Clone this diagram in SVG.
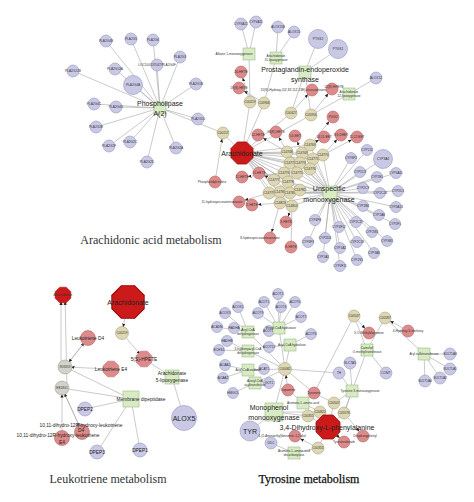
<svg xmlns="http://www.w3.org/2000/svg" xmlns:xlink="http://www.w3.org/1999/xlink" width="474" height="502" viewBox="0 0 474 502">
<style>
.lv{fill:#c9c9e6;stroke:#9696bf;stroke-width:0.6}
.rd{fill:#dc8a8a;stroke:#b56565;stroke-width:0.6}
.tn{fill:#ded7b3;stroke:#a9a27e;stroke-width:0.6}
.gy{fill:#d3d3cc;stroke:#9c9c94;stroke-width:0.6}
.gr{fill:#d8ebc2;stroke:#9cb98a;stroke-width:0.6}
.oc{fill:#cc1a1a;stroke:#9a0c0c;stroke-width:0.6}
.ro{fill:#dc8a8a;stroke:#b56565;stroke-width:0.6}
text{font-family:"Liberation Sans",Arial,sans-serif;text-anchor:middle;dominant-baseline:central;fill:#333}
.t{font-size:3.2px}
.s{font-size:4.8px;fill:#222}
.m{font-size:7px;fill:#222}
.ttl{font-family:"Liberation Serif","Times New Roman",serif;font-size:12px;fill:#333;dominant-baseline:alphabetic}
#edges line{stroke:#a6a6a6;stroke-width:0.6}
#edges .a{marker-end:url(#am)}
#edges .b{marker-end:url(#ab)}
</style>
<defs>
<marker id="am" viewBox="0 0 10 10" markerWidth="10" markerHeight="10" refX="9.5" refY="5" orient="auto" markerUnits="userSpaceOnUse"><path d="M0,3.4 L3.6,5 L0,6.6 z" fill="#222"/></marker>
<marker id="ab" viewBox="0 0 10 10" markerWidth="10" markerHeight="10" refX="9.9" refY="5" orient="auto" markerUnits="userSpaceOnUse"><path d="M0,3.4 L3.6,5 L0,6.6 z" fill="#222"/></marker>
<polygon id="oct" points="3.83,-9.24 9.24,-3.83 9.24,3.83 3.83,9.24 -3.83,9.24 -9.24,3.83 -9.24,-3.83 -3.83,-9.24"/>
</defs>
<rect width="474" height="502" fill="#fff"/>

<g id="edges">
<!-- Arachidonic: phospholipase -->
<line x1="160" y1="108" x2="106" y2="41"/><line x1="160" y1="108" x2="131" y2="39"/><line x1="160" y1="108" x2="153" y2="40"/><line x1="160" y1="108" x2="180" y2="57"/><line x1="160" y1="108" x2="157" y2="65"/><line x1="160" y1="108" x2="115" y2="69"/><line x1="160" y1="108" x2="73" y2="71"/><line x1="160" y1="108" x2="133" y2="85"/><line x1="160" y1="108" x2="196" y2="84"/><line x1="160" y1="108" x2="94" y2="104"/><line x1="160" y1="108" x2="116" y2="107"/><line x1="160" y1="108" x2="198" y2="119"/><line x1="160" y1="108" x2="96" y2="127"/><line x1="160" y1="108" x2="130" y2="142"/><line x1="160" y1="108" x2="109" y2="146"/><line x1="160" y1="108" x2="176" y2="148"/><line x1="160" y1="108" x2="147" y2="162"/><line x1="160" y1="108" x2="223" y2="133"/>
<line class="a" x1="223" y1="133" x2="242" y2="153" style="marker-end:url(#ab)"/>
<line class="a" x1="215" y1="182" x2="223" y2="133"/>
<!-- upper enzymes -->
<line x1="249" y1="54" x2="241" y2="24"/><line x1="249" y1="54" x2="256" y2="22"/><line x1="249" y1="54" x2="250" y2="102"/>
<line x1="276" y1="58" x2="278" y2="27"/><line x1="276" y1="58" x2="294" y2="32"/><line x1="276" y1="58" x2="264" y2="103"/>
<line x1="305" y1="72" x2="318" y2="39"/><line x1="305" y1="72" x2="338" y2="49"/><line x1="305" y1="72" x2="291" y2="113"/><line x1="305" y1="72" x2="311" y2="115"/>
<line x1="349" y1="94" x2="376" y2="78"/><line x1="349" y1="94" x2="311" y2="115"/>
<line class="a" x1="250" y1="102" x2="241" y2="72"/><line class="a" x1="264" y1="103" x2="239" y2="88"/>
<line class="a" x1="291" y1="113" x2="312" y2="90"/><line class="a" x1="311" y1="115" x2="332" y2="89"/>
<line x1="242" y1="153" x2="250" y2="102"/><line x1="242" y1="153" x2="264" y2="103"/><line x1="242" y1="153" x2="291" y2="113"/><line x1="242" y1="153" x2="311" y2="115"/>
<!-- arachidonate to cluster -->
<line x1="242" y1="153" x2="287" y2="152"/><line x1="242" y1="153" x2="302" y2="153"/><line x1="242" y1="153" x2="310" y2="145"/><line x1="242" y1="153" x2="323" y2="155"/><line x1="242" y1="153" x2="313" y2="159"/><line x1="242" y1="153" x2="290" y2="163"/><line x1="242" y1="153" x2="300" y2="163"/><line x1="242" y1="153" x2="284" y2="173"/><line x1="242" y1="153" x2="297" y2="173"/><line x1="242" y1="153" x2="310" y2="169"/><line x1="242" y1="153" x2="274" y2="180"/><line x1="242" y1="153" x2="288" y2="182"/><line x1="242" y1="153" x2="269" y2="193"/><line x1="242" y1="153" x2="280" y2="192"/><line x1="242" y1="153" x2="290" y2="193"/><line x1="242" y1="153" x2="300" y2="190"/><line x1="242" y1="153" x2="280" y2="203"/><line x1="242" y1="153" x2="292" y2="206"/>
<!-- cluster to products -->
<line class="a" x1="287" y1="152" x2="258" y2="135"/><line class="a" x1="287" y1="152" x2="276" y2="132"/><line class="a" x1="302" y1="153" x2="295" y2="136"/><line class="a" x1="310" y1="145" x2="324" y2="137"/><line class="a" x1="323" y1="155" x2="341" y2="135"/><line class="a" x1="323" y1="155" x2="357" y2="137"/><line class="a" x1="310" y1="145" x2="333" y2="117"/>
<line class="a" x1="274" y1="180" x2="259" y2="173"/><line class="a" x1="284" y1="173" x2="242" y2="177"/><line class="a" x1="269" y1="193" x2="239" y2="202"/><line class="a" x1="280" y1="203" x2="252" y2="205"/><line class="a" x1="292" y1="206" x2="286" y2="222"/><line class="a" x1="280" y1="203" x2="270" y2="238"/><line x1="292" y1="206" x2="291" y2="247"/>
<!-- unspecific monooxygenase to cluster -->
<line x1="330" y1="193" x2="287" y2="152"/><line x1="330" y1="193" x2="302" y2="153"/><line x1="330" y1="193" x2="310" y2="145"/><line x1="330" y1="193" x2="323" y2="155"/><line x1="330" y1="193" x2="313" y2="159"/><line x1="330" y1="193" x2="290" y2="163"/><line x1="330" y1="193" x2="300" y2="163"/><line x1="330" y1="193" x2="284" y2="173"/><line x1="330" y1="193" x2="297" y2="173"/><line x1="330" y1="193" x2="310" y2="169"/><line x1="330" y1="193" x2="274" y2="180"/><line x1="330" y1="193" x2="288" y2="182"/><line x1="330" y1="193" x2="269" y2="193"/><line x1="330" y1="193" x2="280" y2="192"/><line x1="330" y1="193" x2="290" y2="193"/><line x1="330" y1="193" x2="300" y2="190"/><line x1="330" y1="193" x2="280" y2="203"/><line x1="330" y1="193" x2="292" y2="206"/>
<!-- to CYPs -->
<line x1="330" y1="193" x2="351" y2="158"/><line x1="330" y1="193" x2="367" y2="150"/><line x1="330" y1="193" x2="383" y2="159"/><line x1="330" y1="193" x2="360" y2="172"/><line x1="330" y1="193" x2="377" y2="177"/><line x1="330" y1="193" x2="396" y2="173"/><line x1="330" y1="193" x2="363" y2="188"/><line x1="330" y1="193" x2="380" y2="193"/><line x1="330" y1="193" x2="398" y2="191"/><line x1="330" y1="193" x2="363" y2="206"/><line x1="330" y1="193" x2="379" y2="215"/><line x1="330" y1="193" x2="396" y2="207"/><line x1="330" y1="193" x2="395" y2="224"/><line x1="330" y1="193" x2="315" y2="220"/><line x1="330" y1="193" x2="339" y2="227"/><line x1="330" y1="193" x2="356" y2="222"/><line x1="330" y1="193" x2="372" y2="232"/><line x1="330" y1="193" x2="387" y2="241"/><line x1="330" y1="193" x2="325" y2="238"/><line x1="330" y1="193" x2="308" y2="242"/><line x1="330" y1="193" x2="340" y2="248"/><line x1="330" y1="193" x2="357" y2="242"/><line x1="330" y1="193" x2="374" y2="253"/><line x1="330" y1="193" x2="323" y2="257"/><line x1="330" y1="193" x2="357" y2="260"/><line x1="330" y1="193" x2="340" y2="266"/>

<!-- Leukotriene -->
<line class="a" x1="128" y1="302" x2="122" y2="333" style="marker-end:url(#am)"/>
<line class="a" x1="122" y1="333" x2="144" y2="359"/>
<line x1="144" y1="359" x2="172" y2="377"/><line x1="172" y1="377" x2="184" y2="418"/>
<line class="b" x1="61" y1="367" x2="61" y2="295"/><line class="b" x1="67" y1="388" x2="65" y2="295"/>
<line class="a" x1="65" y1="367" x2="88" y2="338"/><line class="a" x1="88" y1="338" x2="65" y2="367"/>
<line class="a" x1="111" y1="369" x2="65" y2="367"/>
<line x1="65" y1="367" x2="131" y2="399"/><line x1="62" y1="388" x2="131" y2="399"/>
<line x1="131" y1="399" x2="85" y2="409"/><line x1="131" y1="399" x2="97" y2="452"/><line x1="131" y1="399" x2="140" y2="450"/>
<line class="a" x1="62" y1="388" x2="82" y2="432"/><line class="a" x1="82" y1="432" x2="62" y2="388"/>
<line class="a" x1="62" y1="438" x2="62" y2="388"/>

<!-- Tyrosine -->
<line x1="279" y1="328" x2="264" y2="302"/><line x1="279" y1="328" x2="278" y2="294"/><line x1="279" y1="328" x2="281" y2="307"/><line x1="279" y1="328" x2="295" y2="302"/><line x1="279" y1="328" x2="258" y2="313"/><line x1="279" y1="328" x2="301" y2="317"/><line x1="279" y1="328" x2="269" y2="331"/><line x1="279" y1="328" x2="285" y2="369"/>
<line x1="290" y1="345" x2="311" y2="334"/><line x1="290" y1="345" x2="269" y2="347"/><line x1="290" y1="345" x2="285" y2="369"/>
<line x1="248" y1="332" x2="238" y2="307"/><line x1="248" y1="332" x2="225" y2="313"/><line x1="248" y1="332" x2="217" y2="327"/><line x1="248" y1="332" x2="234" y2="328"/><line x1="248" y1="332" x2="285" y2="369"/>
<line x1="248" y1="351" x2="227" y2="341"/><line x1="248" y1="351" x2="219" y2="350"/><line x1="248" y1="351" x2="285" y2="369"/>
<line x1="248" y1="370" x2="225" y2="365"/><line x1="248" y1="370" x2="223" y2="378"/><line x1="248" y1="370" x2="264" y2="369"/><line x1="248" y1="370" x2="285" y2="369"/>
<line x1="255" y1="383" x2="233" y2="393"/><line x1="255" y1="383" x2="269" y2="383"/><line x1="255" y1="383" x2="285" y2="369"/>
<line class="a" x1="288" y1="390" x2="285" y2="369"/>
<line x1="274" y1="412" x2="285" y2="369"/><line x1="274" y1="412" x2="250" y2="431"/><line x1="274" y1="412" x2="308" y2="416"/><line x1="274" y1="412" x2="320" y2="412"/>
<line x1="285" y1="369" x2="314" y2="393"/><line x1="285" y1="369" x2="339" y2="373"/><line x1="303" y1="403" x2="288" y2="390"/><line x1="303" y1="403" x2="320" y2="412"/>
<line x1="314" y1="393" x2="354" y2="316"/><line x1="314" y1="393" x2="334" y2="403"/>
<line x1="352" y1="391" x2="339" y2="373"/><line x1="352" y1="391" x2="350" y2="363"/><line x1="352" y1="391" x2="334" y2="403"/><line x1="352" y1="391" x2="344" y2="413"/>
<line class="a" x1="354" y1="316" x2="369" y2="333"/>
<line x1="367" y1="350" x2="354" y2="316"/><line x1="367" y1="350" x2="385" y2="318"/><line x1="367" y1="350" x2="386" y2="373"/><line x1="367" y1="350" x2="344" y2="413"/>
<line class="a" x1="408" y1="331" x2="385" y2="318"/>
<line x1="424" y1="354" x2="385" y2="318"/><line x1="424" y1="354" x2="450" y2="354"/><line x1="424" y1="354" x2="450" y2="369"/><line x1="424" y1="354" x2="440" y2="378"/><line x1="424" y1="354" x2="425" y2="381"/>
<line class="b" x1="308" y1="416" x2="328" y2="427"/><line class="b" x1="320" y1="412" x2="328" y2="427"/><line class="b" x1="334" y1="403" x2="328" y2="427"/><line class="b" x1="344" y1="413" x2="328" y2="427"/>
<line class="a" x1="344" y1="413" x2="363" y2="436"/><line class="a" x1="328" y1="427" x2="344" y2="442" style="marker-end:url(#am)"/>
<line class="a" x1="318" y1="448" x2="295" y2="436"/><line x1="328" y1="427" x2="318" y2="448"/>
<line x1="294" y1="453" x2="318" y2="448"/><line x1="294" y1="453" x2="271" y2="443"/>
</g>

<!-- ===== Arachidonic acid metabolism ===== -->
<g id="pla2g4b"><circle class="lv" cx="106" cy="41" r="6"/><text class="t" x="106" y="41">PLA2G4B</text></g>
<g id="pla2g5"><circle class="lv" cx="131" cy="39" r="6"/><text class="t" x="131" y="39">PLA2G5</text></g>
<g id="pla2g6"><circle class="lv" cx="153" cy="40" r="6"/><text class="t" x="153" y="40">PLA2G6</text></g>
<g id="pla2g3"><circle class="lv" cx="180" cy="57" r="6"/><text class="t" x="180" y="57">PLA2G3</text></g>
<g id="pla2g4f"><circle class="lv" cx="157" cy="65" r="6"/><text class="t" x="157" y="65">LOC100137047/PLA2G4F</text></g>
<g id="pla2g12a"><circle class="lv" cx="115" cy="69" r="6"/><text class="t" x="115" y="69">PLA2G12A</text></g>
<g id="pla2g12b"><circle class="lv" cx="73" cy="71" r="6"/><text class="t" x="73" y="71">PLA2G12B</text></g>
<g id="pla2g4a"><circle class="lv" cx="133" cy="85" r="9.5"/><text class="t" x="133" y="85">PLA2G4A</text></g>
<g id="pla2g1b"><circle class="lv" cx="196" cy="84" r="6"/><text class="t" x="196" y="84">PLA2G1B</text></g>
<g id="pla2g4c"><circle class="lv" cx="94" cy="104" r="6"/><text class="t" x="94" y="104">PLA2G4C</text></g>
<g id="pla2g4d"><circle class="lv" cx="116" cy="107" r="6"/><text class="t" x="116" y="107">PLA2G4D</text></g>
<g id="pla2g10"><circle class="lv" cx="198" cy="119" r="6"/><text class="t" x="198" y="119">PLA2G10</text></g>
<g id="pla2g2e"><circle class="lv" cx="96" cy="127" r="6"/><text class="t" x="96" y="127">PLA2G2E</text></g>
<g id="pla2g2c"><circle class="lv" cx="130" cy="142" r="6"/><text class="t" x="130" y="142">PLA2G2C</text></g>
<g id="pla2g2f"><circle class="lv" cx="109" cy="146" r="6"/><text class="t" x="109" y="146">PLA2G2F</text></g>
<g id="pla2g2a"><circle class="lv" cx="176" cy="148" r="6"/><text class="t" x="176" y="148">PLA2G2A</text></g>
<g id="pla2g2d"><circle class="lv" cx="147" cy="162" r="6"/><text class="t" x="147" y="162">PLA2G2D</text></g>
<g id="phospholipase"><rect class="gr" x="154" y="102" width="12" height="12"/><text class="m" x="160" y="103">Phospholipase</text><text class="m" x="160" y="113">A(2)</text></g>
<g id="aa-c0"><circle class="tn" cx="223" cy="133" r="6"/><text class="t" x="223" y="133">C00157</text></g>
<g id="phosphatidylcholine"><circle class="rd" cx="215" cy="182" r="6"/><text class="t" x="212" y="182">Phosphatidylcholine</text></g>

<g id="cyp4a22"><circle class="lv" cx="241" cy="24" r="6"/><text class="t" x="241" y="24">CYP4A22</text></g>
<g id="cyp4a11"><circle class="lv" cx="256" cy="22" r="6"/><text class="t" x="256" y="22">CYP4A11</text></g>
<g id="alox15b"><circle class="lv" cx="278" cy="27" r="6"/><text class="t" x="278" y="27">ALOX15B</text></g>
<g id="alox15"><circle class="lv" cx="294" cy="32" r="6"/><text class="t" x="294" y="32">ALOX15</text></g>
<g id="ptgs2"><circle class="lv" cx="318" cy="39" r="9.5"/><text class="t" x="318" y="39">PTGS2</text></g>
<g id="ptgs1"><circle class="lv" cx="338" cy="49" r="9.5"/><text class="t" x="338" y="49">PTGS1</text></g>
<g id="alox12"><circle class="lv" cx="376" cy="78" r="6"/><text class="t" x="376" y="78">ALOX12</text></g>
<g id="alkane-mono"><rect class="gr" x="243" y="48" width="12" height="12"/><text class="t" x="234" y="54">Alkane 1-monooxygenase</text></g>
<g id="arachidonate-lox"><rect class="gr" x="270" y="52" width="12" height="12"/><text class="t" x="276" y="56">Arachidonate</text><text class="t" x="276" y="60">15-lipoxygenase</text></g>
<g id="pgs"><rect class="gr" x="299" y="66" width="12" height="12"/><text class="m" x="305" y="69">Prostaglandin-endoperoxide</text><text class="m" x="305" y="79">synthase</text></g>
<g id="arachidonate-12lox"><rect class="gr" x="343" y="88" width="12" height="12"/><text class="t" x="349" y="92">Arachidonate</text><text class="t" x="349" y="96">12-lipoxygenase</text></g>
<g id="hete20"><circle class="rd" cx="241" cy="72" r="6"/><text class="t" x="241" y="72">20-HETE</text></g>
<g id="hete19"><circle class="rd" cx="239" cy="88" r="6"/><text class="t" x="239" y="88">19(S)-HETE</text></g>
<g id="hpete15"><circle class="rd" cx="312" cy="90" r="6"/><text class="t" x="296" y="90" font-size="2.7">15(S)-Hydroxy-(5Z,8Z,11Z,13E)-eicosatetraenoate</text></g>
<g id="hpete12"><circle class="rd" cx="332" cy="89" r="6"/><text class="t" x="334" y="87" font-size="2.8">12(S)-HPETE</text></g>
<g id="pgg2"><circle class="rd" cx="333" cy="117" r="6"/><text class="t" x="333" y="117">PGG2</text></g>
<g id="aa-u1"><circle class="tn" cx="250" cy="102" r="6"/><text class="t" x="250" y="102">C00219</text></g>
<g id="aa-u2"><circle class="tn" cx="264" cy="103" r="6"/><text class="t" x="264" y="103">C05966</text></g>
<g id="aa-u3"><circle class="tn" cx="291" cy="113" r="6"/><text class="t" x="291" y="113">C00427</text></g>
<g id="aa-u4"><circle class="tn" cx="311" cy="115" r="6"/><text class="t" x="311" y="115">C05956</text></g>
<g id="r6"><circle class="rd" cx="258" cy="135" r="6"/><text class="t" x="258" y="135">12-HETE</text></g>
<g id="r7"><circle class="rd" cx="276" cy="132" r="6"/><text class="t" x="276" y="132">16(R)-HETE</text></g>
<g id="r8"><circle class="rd" cx="295" cy="136" r="6"/><text class="t" x="295" y="136">5,6-EET</text></g>
<g id="r9"><circle class="rd" cx="324" cy="137" r="6"/><text class="t" x="324" y="137">14,15-EET</text></g>
<g id="r10"><circle class="rd" cx="341" cy="135" r="6"/><text class="t" x="341" y="135">8,9-DHET</text></g>
<g id="r11"><circle class="rd" cx="357" cy="137" r="6"/><text class="t" x="357" y="137">11,12-EET</text></g>
<g id="r12"><circle class="rd" cx="242" cy="177" r="6"/><text class="t" x="242" y="177">12-HETE</text></g>
<g id="r13"><circle class="rd" cx="259" cy="173" r="6"/><text class="t" x="259" y="173">15-HETE</text></g>
<g id="r14"><circle class="rd" cx="239" cy="202" r="6"/><text class="t" x="222" y="202">11-hydroxyeicosatetraenoate</text></g>
<g id="r15"><circle class="rd" cx="252" cy="205" r="6"/><text class="t" x="252" y="205">5-HETE</text></g>
<g id="r16"><circle class="rd" cx="286" cy="222" r="6"/><text class="t" x="286" y="222">9-HETE</text></g>
<g id="r17"><circle class="rd" cx="270" cy="238" r="6"/><text class="t" x="260" y="238">8-hydroxyeicosatetraenoate</text></g>
<g id="r18"><circle class="rd" cx="291" cy="247" r="6"/><text class="t" x="291" y="247">8-HETE</text></g>
<g id="c1"><circle class="tn" cx="287" cy="152" r="6"/><text class="t" x="287" y="152">C14748</text></g>
<g id="c2"><circle class="tn" cx="302" cy="153" r="6"/><text class="t" x="302" y="153">C14749</text></g>
<g id="c3"><circle class="tn" cx="310" cy="145" r="6"/><text class="t" x="310" y="145">C14769</text></g>
<g id="c4"><circle class="tn" cx="323" cy="155" r="6"/><text class="t" x="323" y="155">C14770</text></g>
<g id="c5"><circle class="tn" cx="313" cy="159" r="6"/><text class="t" x="313" y="159">C14771</text></g>
<g id="c6"><circle class="tn" cx="290" cy="163" r="6"/><text class="t" x="290" y="163">C14772</text></g>
<g id="c7"><circle class="tn" cx="300" cy="163" r="6"/><text class="t" x="300" y="163">C14773</text></g>
<g id="c8"><circle class="tn" cx="284" cy="173" r="6"/><text class="t" x="284" y="173">C14774</text></g>
<g id="c9"><circle class="tn" cx="297" cy="173" r="6"/><text class="t" x="297" y="173">C14775</text></g>
<g id="c10"><circle class="tn" cx="310" cy="169" r="6"/><text class="t" x="310" y="169">C14776</text></g>
<g id="c11"><circle class="tn" cx="274" cy="180" r="6"/><text class="t" x="274" y="180">C14777</text></g>
<g id="c12"><circle class="tn" cx="288" cy="182" r="6"/><text class="t" x="288" y="182">C14778</text></g>
<g id="c13"><circle class="tn" cx="269" cy="193" r="6"/><text class="t" x="269" y="193">C14779</text></g>
<g id="c14"><circle class="tn" cx="280" cy="192" r="6"/><text class="t" x="280" y="192">C14780</text></g>
<g id="c15"><circle class="tn" cx="290" cy="193" r="6"/><text class="t" x="290" y="193">C14781</text></g>
<g id="c16"><circle class="tn" cx="300" cy="190" r="6"/><text class="t" x="300" y="190">C14782</text></g>
<g id="c17"><circle class="tn" cx="280" cy="203" r="6"/><text class="t" x="280" y="203">C14813</text></g>
<g id="c18"><circle class="tn" cx="292" cy="206" r="6"/><text class="t" x="292" y="206">C14814</text></g>
<g id="arachidonate"><use href="#oct" class="oc" transform="translate(242,153) scale(1.2)"/><text class="m" x="242" y="153">Arachidonate</text></g>
<g id="unspecific"><rect class="gr" x="323" y="186" width="14" height="14"/><text class="m" x="329" y="188" font-size="7.5">Unspecific</text><text class="m" x="329" y="199" font-size="7.5">monooxygenase</text></g>
<g id="cyp1"><circle class="lv" cx="351" cy="158" r="5.5"/><text class="t" x="351" y="158">CYP4F2</text></g>
<g id="cyp2"><circle class="lv" cx="367" cy="150" r="5.5"/><text class="t" x="367" y="150">CYP2J2</text></g>
<g id="cyp3a4"><circle class="lv" cx="383" cy="159" r="9.5"/><text class="t" x="383" y="159">CYP3A4</text></g>
<g id="cyp4"><circle class="lv" cx="360" cy="172" r="5.5"/><text class="t" x="360" y="172">CYP2C8</text></g>
<g id="cyp5"><circle class="lv" cx="377" cy="177" r="5.5"/><text class="t" x="377" y="177">CYP2E1</text></g>
<g id="cyp6"><circle class="lv" cx="396" cy="173" r="5.5"/><text class="t" x="396" y="173">CYP4A11</text></g>
<g id="cyp7"><circle class="lv" cx="363" cy="188" r="5.5"/><text class="t" x="363" y="188">CYP2C9</text></g>
<g id="cyp8"><circle class="lv" cx="380" cy="193" r="5.5"/><text class="t" x="380" y="193">CYP2C18</text></g>
<g id="cyp9"><circle class="lv" cx="398" cy="191" r="5.5"/><text class="t" x="398" y="191">CYP2U1</text></g>
<g id="cyp10"><circle class="lv" cx="363" cy="206" r="5.5"/><text class="t" x="363" y="206">CYP2B6</text></g>
<g id="cyp11"><circle class="lv" cx="379" cy="215" r="5.5"/><text class="t" x="379" y="215">CYP2A6</text></g>
<g id="cyp12"><circle class="lv" cx="396" cy="207" r="5.5"/><text class="t" x="396" y="207">CYP2A13</text></g>
<g id="cyp13"><circle class="lv" cx="395" cy="224" r="5.5"/><text class="t" x="395" y="224">CYP2F1</text></g>
<g id="cyp14"><circle class="lv" cx="315" cy="220" r="5.5"/><text class="t" x="315" y="220">CYP4F8</text></g>
<g id="cyp15"><circle class="lv" cx="339" cy="227" r="5.5"/><text class="t" x="339" y="227">CYP4F12</text></g>
<g id="cyp16"><circle class="lv" cx="356" cy="222" r="5.5"/><text class="t" x="356" y="222">CYP2C19</text></g>
<g id="cyp17"><circle class="lv" cx="372" cy="232" r="5.5"/><text class="t" x="372" y="232">CYP2W1</text></g>
<g id="cyp18"><circle class="lv" cx="387" cy="241" r="5.5"/><text class="t" x="387" y="241">CYP4B1</text></g>
<g id="cyp19"><circle class="lv" cx="325" cy="238" r="5.5"/><text class="t" x="325" y="238">CYP2D6</text></g>
<g id="cyp20"><circle class="lv" cx="308" cy="242" r="5.5"/><text class="t" x="308" y="242">CYP4F3</text></g>
<g id="cyp21"><circle class="lv" cx="340" cy="248" r="5.5"/><text class="t" x="340" y="248">CYP1A2</text></g>
<g id="cyp22"><circle class="lv" cx="357" cy="242" r="5.5"/><text class="t" x="357" y="242">CYP2C18</text></g>
<g id="cyp23"><circle class="lv" cx="374" cy="253" r="5.5"/><text class="t" x="374" y="253">CYP3A5</text></g>
<g id="cyp24"><circle class="lv" cx="323" cy="257" r="5.5"/><text class="t" x="323" y="257">CYP1A1</text></g>
<g id="cyp25"><circle class="lv" cx="357" cy="260" r="5.5"/><text class="t" x="357" y="260">CYP2S1</text></g>
<g id="cyp26"><circle class="lv" cx="340" cy="266" r="5.5"/><text class="t" x="340" y="266">CYP4F11</text></g>
<text class="ttl" x="151" y="244">Arachidonic acid metabolism</text>

<!-- ===== Leukotriene metabolism ===== -->
<g id="lt-arach-small"><use href="#oct" class="oc" transform="translate(63,295) scale(0.85)"/><text class="t" x="63" y="295">Arachidonate</text></g>
<g id="lt-arachidonate"><use href="#oct" class="oc" transform="translate(128,302) scale(1.75)"/><text class="m" x="128" y="302" font-size="10">Arachidonate</text></g>
<g id="lt-tan"><circle class="tn" cx="122" cy="333" r="6.5"/><text class="t" x="122" y="333" fill="#a08a50">C00219</text></g>
<g id="ltd4"><circle class="rd" cx="88" cy="338" r="7.5"/><text class="s" x="88" y="338">Leukotriene D4</text></g>
<g id="hpete5"><use href="#oct" class="ro" transform="translate(144,359) scale(0.85)"/><text class="s" x="144" y="359">5(S)-HPETE</text></g>
<g id="lte4"><use href="#oct" class="ro" transform="translate(111,369) scale(0.85)"/><text class="s" x="111" y="369">Leukotriene E4</text></g>
<g id="lt-g1"><circle class="gy" cx="65" cy="367" r="7"/><text class="t" x="65" y="367" fill="#7a70b0">R03059</text></g>
<g id="lt-g2"><circle class="gy" cx="62" cy="388" r="7"/><text class="t" x="62" y="388" fill="#7a70b0">EE1801</text></g>
<g id="alox5-enz"><rect class="gr" x="165" y="370" width="14" height="14"/><text class="s" x="172" y="373">Arachidonate</text><text class="s" x="172" y="380">5-lipoxygenase</text></g>
<g id="membrane-dipeptidase"><rect class="gr" x="123" y="391" width="16" height="16"/><text class="s" x="141" y="399">Membrane dipeptidase</text></g>
<g id="dpep2"><circle class="lv" cx="85" cy="409" r="7"/><text class="s" x="85" y="409" font-size="4">DPEP2</text></g>
<g id="alox5"><circle class="lv" cx="184" cy="418" r="12.5"/><text class="m" x="184" y="418" font-size="6.5">ALOX5</text></g>
<g id="dh-ltd4"><circle class="rd" cx="82" cy="432" r="7.5"/><text class="s" x="81" y="425">10,11-dihydro-12R-hydroxy-leukotriene</text><text class="s" x="81" y="430">D4</text></g>
<g id="dh-lte4"><circle class="rd" cx="62" cy="438" r="7.5"/><text class="s" x="58" y="435">10,11-dihydro-12R-hydroxy-leukotriene</text><text class="s" x="62" y="442">E4</text></g>
<g id="dpep3"><circle class="lv" cx="97" cy="452" r="7"/><text class="s" x="97" y="452" font-size="4">DPEP3</text></g>
<g id="dpep1"><circle class="lv" cx="140" cy="450" r="7"/><text class="s" x="140" y="450" font-size="4">DPEP1</text></g>
<text class="ttl" x="108" y="483">Leukotriene metabolism</text>

<!-- ===== Tyrosine metabolism ===== -->
<g id="ty-l1"><circle class="lv" cx="264" cy="302" r="5.5"/><text class="t" x="264" y="302">ACOT1</text></g>
<g id="ty-l2"><circle class="lv" cx="278" cy="294" r="5.5"/><text class="t" x="278" y="294">ACOT2</text></g>
<g id="ty-l3"><circle class="lv" cx="281" cy="307" r="5.5"/><text class="t" x="281" y="307">ACOT4</text></g>
<g id="ty-l4"><circle class="lv" cx="295" cy="302" r="5.5"/><text class="t" x="295" y="302">ACOT6</text></g>
<g id="ty-l5"><circle class="lv" cx="258" cy="313" r="5.5"/><text class="t" x="258" y="313">ACOT9</text></g>
<g id="ty-l6"><circle class="lv" cx="301" cy="317" r="5.5"/><text class="t" x="301" y="317">ACOT7</text></g>
<g id="ty-l7"><circle class="lv" cx="311" cy="334" r="5.5"/><text class="t" x="311" y="334">ACOT8</text></g>
<g id="ty-l8"><circle class="lv" cx="269" cy="331" r="5.5"/><text class="t" x="269" y="331">ACOT11</text></g>
<g id="ty-l9"><circle class="lv" cx="269" cy="347" r="5.5"/><text class="t" x="269" y="347">ACOT12</text></g>
<g id="ty-l10"><circle class="lv" cx="264" cy="369" r="5.5"/><text class="t" x="264" y="369">ACAT1</text></g>
<g id="ty-l11"><circle class="lv" cx="269" cy="383" r="5.5"/><text class="t" x="269" y="383">GOT1</text></g>
<g id="ty-l12"><circle class="lv" cx="238" cy="307" r="5.5"/><text class="t" x="238" y="307">ACOX1</text></g>
<g id="ty-l13"><circle class="lv" cx="225" cy="313" r="5.5"/><text class="t" x="225" y="313">ACOX3</text></g>
<g id="ty-l14"><circle class="lv" cx="217" cy="327" r="5.5"/><text class="t" x="217" y="327">ACADM</text></g>
<g id="ty-l15"><circle class="lv" cx="234" cy="328" r="5.5"/><text class="t" x="234" y="328">HADHA</text></g>
<g id="ty-l16"><circle class="lv" cx="227" cy="341" r="5.5"/><text class="t" x="227" y="341">HADHB</text></g>
<g id="ty-l17"><circle class="lv" cx="219" cy="350" r="5.5"/><text class="t" x="219" y="350">ECHS1</text></g>
<g id="ty-l18"><circle class="lv" cx="225" cy="365" r="5.5"/><text class="t" x="225" y="365">ACAA1</text></g>
<g id="ty-l19"><circle class="lv" cx="223" cy="378" r="5.5"/><text class="t" x="223" y="378">ACAA2</text></g>
<g id="ty-l20"><circle class="lv" cx="233" cy="393" r="5.5"/><text class="t" x="233" y="393">HMGCL</text></g>
<g id="ty-s1"><rect class="gr" x="273" y="322" width="12" height="12"/><text class="t" x="281" y="328">Enoyl-CoA hydratase</text></g>
<g id="ty-s2"><rect class="gr" x="284" y="339" width="12" height="12"/><text class="t" x="292" y="345">Acyl-CoA hydrolase</text></g>
<g id="ty-s3"><rect class="gr" x="242" y="326" width="12" height="12"/><text class="t" x="248" y="330">Acyl-CoA</text><text class="t" x="248" y="334">dehydrogenase</text></g>
<g id="ty-s4"><rect class="gr" x="242" y="345" width="12" height="12"/><text class="t" x="248" y="349">3-hydroxyacyl-CoA</text><text class="t" x="248" y="353">dehydrogenase</text></g>
<g id="ty-s5"><rect class="gr" x="242" y="364" width="12" height="12"/><text class="t" x="248" y="370">Acyl-CoA oxidase</text></g>
<g id="ty-s6"><rect class="gr" x="249" y="377" width="12" height="12"/><text class="t" x="255" y="381">Acetyl-CoA</text><text class="t" x="255" y="385">acyltransferase</text></g>
<g id="ty-hub"><circle class="tn" cx="285" cy="369" r="6.5"/><text class="t" x="285" y="369">C00082</text></g>
<g id="dopamine"><circle class="rd" cx="288" cy="390" r="6"/><text class="t" x="288" y="390">Dopamine</text></g>
<g id="aadc1"><rect class="gr" x="297" y="397" width="12" height="12"/><text class="t" x="303" y="403">Aromatic-L-amino-acid</text></g>
<g id="tyramine"><circle class="rd" cx="314" cy="393" r="6"/><text class="t" x="314" y="393">Tyramine</text></g>
<g id="monophenol"><rect class="gr" x="265" y="403" width="18" height="18"/><text class="m" x="269" y="407">Monophenol</text><text class="m" x="274" y="417">monooxygenase</text></g>
<g id="tyr"><circle class="lv" cx="250" cy="431" r="10"/><text class="m" x="250" y="431" font-size="6">TYR</text></g>
<g id="ty-t1"><circle class="tn" cx="308" cy="416" r="6"/><text class="t" x="308" y="416">C00355</text></g>
<g id="ty-t2"><circle class="tn" cx="320" cy="412" r="6"/><text class="t" x="320" y="412">C00822</text></g>
<g id="ty-t3"><circle class="tn" cx="334" cy="403" r="6"/><text class="t" x="334" y="403">C00547</text></g>
<g id="ty-t4"><circle class="tn" cx="344" cy="413" r="6"/><text class="t" x="344" y="413">C05578</text></g>
<g id="th-enz"><rect class="gr" x="346" y="385" width="12" height="12"/><text class="t" x="360" y="391">Tyrosine 3-monooxygenase</text></g>
<g id="th"><circle class="lv" cx="339" cy="373" r="6"/><text class="t" x="339" y="373">TH</text></g>
<g id="ddc"><circle class="lv" cx="350" cy="363" r="6"/><text class="t" x="350" y="363">SLC7A5</text></g>
<g id="ty-t5"><circle class="tn" cx="354" cy="316" r="6"/><text class="t" x="354" y="316">C00547</text></g>
<g id="ty-r1"><circle class="rd" cx="369" cy="333" r="6"/><text class="t" x="369" y="333">3-O-Methyldopamine</text></g>
<g id="comt-enz"><rect class="gr" x="361" y="344" width="12" height="12"/><text class="t" x="367" y="348">Catechol</text><text class="t" x="367" y="352">O-methyltransferase</text></g>
<g id="comt"><circle class="lv" cx="386" cy="373" r="6"/><text class="t" x="386" y="373">COMT</text></g>
<g id="ty-t6"><circle class="tn" cx="385" cy="318" r="6"/><text class="t" x="385" y="318">C05587</text></g>
<g id="ty-r2"><circle class="rd" cx="408" cy="331" r="6"/><text class="t" x="408" y="331">4-Hydroxy-3-methoxy</text></g>
<g id="aryl-sulfo"><rect class="gr" x="418" y="348" width="12" height="12"/><text class="t" x="424" y="354">Aryl sulfotransferase</text></g>
<g id="sult1"><circle class="lv" cx="450" cy="354" r="6"/><text class="t" x="450" y="354">SULT1A3</text></g>
<g id="sult2"><circle class="lv" cx="450" cy="369" r="6"/><text class="t" x="450" y="369">SULT1A1</text></g>
<g id="sult3"><circle class="lv" cx="440" cy="378" r="6"/><text class="t" x="440" y="378">SULT1A2</text></g>
<g id="sult4"><circle class="lv" cx="425" cy="381" r="6"/><text class="t" x="425" y="381">SULT1A4</text></g>
<g id="dopa"><use href="#oct" class="oc" transform="translate(328,427) scale(1.3)"/><text class="m" x="327" y="427" font-size="6.5">3,4-Dihydroxy-L-phenylalanine</text></g>
<g id="ty-r3"><circle class="rd" cx="295" cy="436" r="6"/><text class="t" x="282" y="436">4-(2-Aminoethyl)benzene-1,2-diol</text></g>
<g id="ty-r4"><circle class="rd" cx="344" cy="442" r="6"/><text class="t" x="344" y="442">Tyrosinedecarb</text></g>
<g id="ty-r5"><circle class="rd" cx="363" cy="436" r="6"/><text class="t" x="365" y="436">Dihydroxyphenyl</text></g>
<g id="ddc2"><circle class="lv" cx="271" cy="443" r="6"/><text class="t" x="271" y="443">DDC</text></g>
<g id="ty-t7"><circle class="tn" cx="318" cy="448" r="6"/><text class="t" x="318" y="448">C00355</text></g>
<g id="aadc2"><rect class="gr" x="288" y="447" width="12" height="12"/><text class="t" x="294" y="451">Aromatic-L-amino-acid</text><text class="t" x="294" y="455">decarboxylase</text></g>
<text class="ttl" x="309" y="483" style="fill:#111;stroke:#111;stroke-width:0.25">Tyrosine metabolism</text>
</svg>
